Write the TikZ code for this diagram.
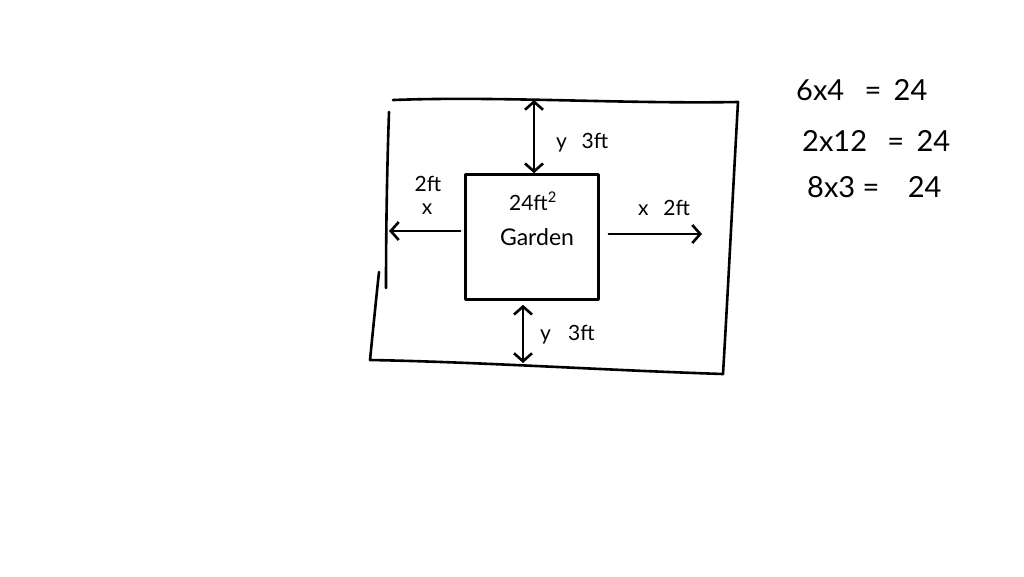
\documentclass[tikz,border=0pt]{standalone}
\usepackage{fontspec}
\setmainfont{Lato}
\usetikzlibrary{arrows.meta}
\begin{document}
\begin{tikzpicture}[x=1pt,y=-1pt,
  ink/.style={line width=2.6pt,line cap=round,line join=round,black},
  tip/.tip={Straight Barb[length=8pt,width=18pt,line width=2.6pt]},
  dimarrow/.style={ink,-tip},
  dimboth/.style={ink,tip-tip},
  lbl/.style={font=\fontsize{21}{24}\selectfont,inner sep=0pt},
  big/.style={font=\fontsize{23}{26}\selectfont,inner sep=0pt},
  eq/.style={font=\fontsize{29}{32}\selectfont,inner sep=0pt,anchor=west}]
\useasboundingbox[fill=white] (0,0) rectangle (1024,576);
% outer frame (hand drawn)
\draw[ink] (393,100) .. controls (500,96) and (620,104) .. (738,102)
  .. controls (733,190) and (728,290) .. (723,374);
\draw[ink] (723,374) .. controls (600,370) and (480,362) .. (370,360)
  .. controls (373,330) and (376,300) .. (379,272);
\draw[ink] (389,112) .. controls (387,170) and (386,230) .. (386,288);
% garden
\node[draw,ink,minimum width=133pt,minimum height=125pt,inner sep=0pt] (garden) at (532,237) {};
\node[lbl] (area) at (533,201) {24ft\textsuperscript{2}};
\node[big] (gname) at (537,237) {Garden};
% end coordinates on the frame
\coordinate (tt) at (534,100);
\coordinate (bb) at (523,363);
\coordinate (ll) at (389,231);
\coordinate (rr) at (702,234);
% arrows
\draw[dimboth] (tt) -- (tt |- garden.north);
\draw[dimboth] (garden.south -| bb) ++(0,4) -- (bb);
\draw[dimarrow] (garden.west) ++(-4,-6) -- (ll);
\draw[dimarrow] (garden.east) ++(9,-3) -- (rr);
% labels
\node[lbl,anchor=west] (ytop) at (556,143) {y\;\, 3ft};
\node[lbl,anchor=west] (ybot) at (540,335) {y\;\; 3ft};
\node[lbl] (l2ft) at (428,184) {2ft};
\node[lbl] (lx) at (427,209) {x};
\node[lbl,anchor=west] (rx) at (638,208) {x\;\, 2ft};
% equations
\node[eq] (e1) at (796,90) {6x4\;\, =\, 24};
\node[eq] (e2) at (802,141) {2x12\;\, =\, 24};
\node[eq] (e3) at (807,187) {8x3 =\;\;\, 24};
\end{tikzpicture}
\end{document}
